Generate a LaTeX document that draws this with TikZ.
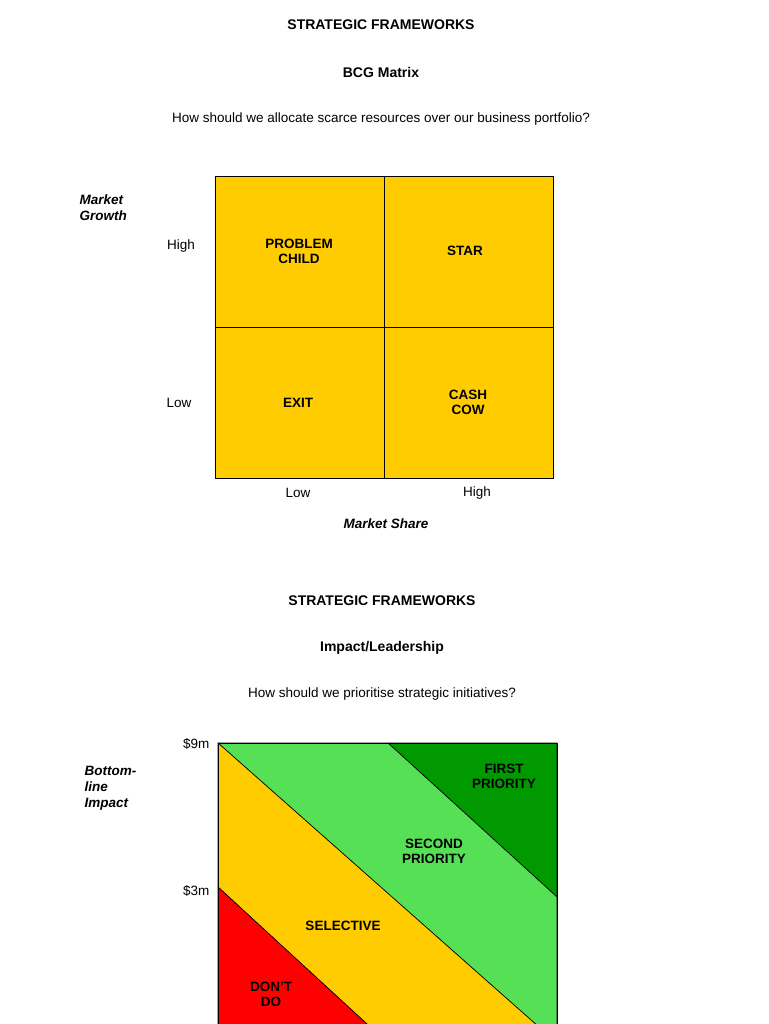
\documentclass[tikz,border=0pt]{standalone}
\usepackage{fontspec}
\setmainfont{Liberation Sans}
\begin{document}
\begin{tikzpicture}[x=1pt,y=-1pt,
  ttl/.style={font=\bfseries\fontsize{14}{16}\selectfont},
  txt/.style={font=\fontsize{13.5}{16}\selectfont},
  lab/.style={font=\bfseries\fontsize{13.5}{15}\selectfont,align=center},
  axl/.style={font=\bfseries\itshape\fontsize{13.5}{16}\selectfont,align=left},
  cell/.style={draw=black,fill=bcgy,line width=0.6pt}]
\definecolor{bcgy}{HTML}{FFCC00}
\definecolor{lgr}{HTML}{55E055}
\definecolor{dgr}{HTML}{009900}
\definecolor{rd}{HTML}{FF0000}
\clip (0,0) rectangle (768,1024);
\fill[white] (0,0) rectangle (768,1024);
% BCG
\node[ttl] (t1) at (381,25) {STRATEGIC FRAMEWORKS};
\node[ttl] (s1) at (381,72) {BCG Matrix};
\node[txt] (q1) at (381,119) {How should we allocate scarce resources over our business portfolio?};
\draw[cell] (215,176) rectangle (384,327);
\draw[cell] (384,176) rectangle (553,327);
\draw[cell] (215,327) rectangle (384,478);
\draw[cell] (384,327) rectangle (553,478);
\node[lab] (pc) at (299,251) {PROBLEM\\CHILD};
\node[lab] (st) at (465,251) {STAR};
\node[lab] (ex) at (298,403) {EXIT};
\node[lab] (cc) at (468,402) {CASH\\COW};
\node[axl,anchor=west] (mg) at (76,208) {Market\\Growth};
\node[txt] (hi) at (181,246) {High};
\node[txt] (lo) at (179,403) {Low};
\node[txt] (lo2) at (298,493) {Low};
\node[txt] (hi2) at (477,493) {High};
\node[axl] (ms) at (386,524) {Market Share};
% Impact
\node[ttl] (t2) at (382,601) {STRATEGIC FRAMEWORKS};
\node[ttl] (s2) at (382,648) {Impact/Leadership};
\node[txt] (q2) at (382,694) {How should we prioritise strategic initiatives?};
\begin{scope}[draw=black,line width=0.6pt,line join=round]
\filldraw[fill=dgr] (388,743) -- (557,743) -- (557,897) -- cycle;
\filldraw[fill=lgr] (218,743) -- (388,743) -- (557,897) -- (557,1043) -- cycle;
\filldraw[fill=bcgy] (218,743) -- (557,1043) -- (557,1082) -- (430,1082) -- (218,887) -- cycle;
\filldraw[fill=rd] (218,887) -- (430,1082) -- (218,1082) -- cycle;
\draw (218,743) rectangle (557,1082);
\end{scope}
\node[txt,anchor=east] (m9) at (213,744) {\$9m};
\node[txt,anchor=east] (m3) at (213,891) {\$3m};
\node[axl,anchor=west] (bi) at (81,788) {Bottom-\\line\\Impact};
\node[lab] (fp) at (504,776) {FIRST\\PRIORITY};
\node[lab] (sp) at (434,851) {SECOND\\PRIORITY};
\node[lab] (se) at (343,926) {SELECTIVE};
\node[lab] (dd) at (271,994) {DON’T\\DO};
\end{tikzpicture}
\end{document}
